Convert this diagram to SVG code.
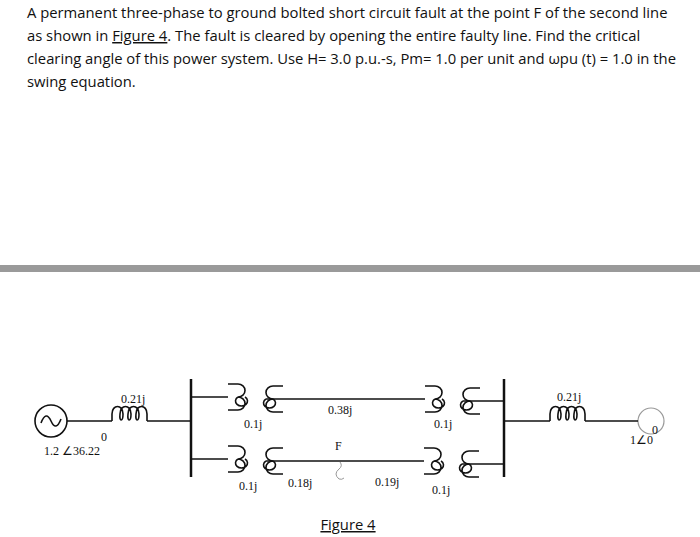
<svg xmlns="http://www.w3.org/2000/svg" width="700" height="537" viewBox="0 0 700 537">
<style>
.h{font-family:"Open Sans","Liberation Sans",sans-serif;font-size:14.8px;fill:#111}
.l{font-family:"Liberation Serif",serif;font-size:12px;fill:#111}
.w{fill:none;stroke:#111;stroke-width:1.6}
.b{stroke:#111;stroke-width:2.5}
</style>
<defs>
<g id="tp"><path class="w" d="M0,-13 H10 A7,6.5 0 0 1 10,0 A7,6.5 0 0 1 10,13 H0 M10,0 A6,5 0 1 0 17,0"/></g>
<g id="ts"><path class="w" d="M30,-13 H20 A7,6.5 0 0 0 20,0 A7,6.5 0 0 0 20,13 H30 M20,0 A6,5 0 1 1 13,0"/></g>
<g id="coil"><path class="w" d="M0,9 V2 C0,-8 11,-8 11,2 C11,10 7,10 8,2 C8,-8 19,-8 19,2 C19,10 15,10 16,2 C16,-8 27,-8 27,2 C27,10 23,10 24,2 C24,-8 35,-8 35,2 V9"/></g>
</defs>
<g id="text">
<text class="h" x="27" y="18">A permanent three-phase to ground bolted short circuit fault at the point F of the second line</text>
<text class="h" x="27" y="41">as shown in <tspan text-decoration="underline">Figure 4</tspan>. The fault is cleared by opening the entire faulty line. Find the critical</text>
<text class="h" x="27" y="64">clearing angle of this power system. Use H= 3.0 p.u.-s, Pm= 1.0 per unit and ωpu (t) = 1.0 in the</text>
<text class="h" x="27" y="87">swing equation.</text>
</g>
<rect x="0" y="265" width="700" height="7" fill="#9a9a9a"/>
<g id="gen"><circle cx="51" cy="421" r="16" class="w"/><path class="w" d="M41,423 Q46,410 51,421 T61,419"/>
<text class="l" x="44" y="455">1.2 ∠36.22</text><text class="l" x="101" y="441" font-size="7">0</text></g>
<g id="bus1"><line class="b" x1="191" y1="379" x2="191" y2="477"/></g>
<g id="bus2"><line class="b" x1="504" y1="379" x2="504" y2="477"/></g>
<g id="inf"><circle cx="651" cy="421" r="13" fill="none" stroke="#999" stroke-width="1.2"/>
<text class="l" x="630" y="444">1∠0</text><text class="l" x="652" y="434" font-size="7">0</text></g>
<g id="connectors">
<line class="w" x1="67" y1="421" x2="112" y2="421"/>
<use href="#coil" x="112" y="412"/>
<line class="w" x1="147" y1="421" x2="191" y2="421"/>
<line class="w" x1="191" y1="397" x2="228" y2="397"/>
<use href="#tp" x="228" y="397"/><use href="#ts" x="253" y="399"/>
<line class="w" x1="266" y1="399" x2="425" y2="399"/>
<use href="#tp" x="425" y="399"/><use href="#ts" x="450" y="401"/>
<line class="w" x1="463" y1="401" x2="504" y2="401"/>
<line class="w" x1="191" y1="459" x2="228" y2="459"/>
<use href="#tp" x="228" y="459"/><use href="#ts" x="253" y="461"/>
<line class="w" x1="266" y1="461" x2="424" y2="461"/>
<use href="#tp" x="424" y="461"/><use href="#ts" x="449" y="464"/>
<line class="w" x1="462" y1="464" x2="504" y2="464"/>
<line class="w" x1="504" y1="421" x2="550" y2="421"/>
<use href="#coil" x="550" y="412"/>
<line class="w" x1="585" y1="421" x2="638" y2="421"/>
<path d="M340,462 q3,4 -1,7 q-6,5 0,10 q3,1 5,-1" fill="none" stroke="#999" stroke-width="1"/>
</g>
<g id="labels">
<text class="l" x="121" y="403">0.21j</text>
<text class="l" x="244" y="428">0.1j</text>
<text class="l" x="328" y="414">0.38j</text>
<text class="l" x="434" y="428">0.1j</text>
<text class="l" x="335" y="450">F</text>
<text class="l" x="239" y="490">0.1j</text>
<text class="l" x="288" y="487">0.18j</text>
<text class="l" x="375" y="486">0.19j</text>
<text class="l" x="432" y="494">0.1j</text>
<text class="l" x="557" y="401">0.21j</text>
<text x="348" y="530" text-anchor="middle" font-family="Open Sans,Liberation Sans,sans-serif" font-size="14.8" text-decoration="underline" fill="#111">Figure 4</text>
</g>
</svg>
